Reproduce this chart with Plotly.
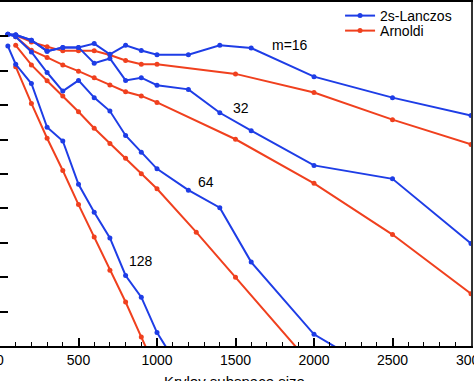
import plotly.graph_objects as go

# Krylov subspace sizes
x_lanczos_16 = [50, 100, 200, 300, 400, 500, 600, 700, 800, 900, 1000, 1200, 1400, 1600, 2000, 2500, 3000]
x_lanczos_32 = [50, 100, 200, 300, 400, 500, 600, 700, 800, 900, 1000, 1200, 1400, 1600, 2000, 2500, 3000]
x_lanczos_64 = [50, 100, 200, 300, 400, 500, 600, 700, 800, 900, 1000, 1200, 1400, 1600, 2000, 2500]
x_lanczos_128 = [50, 100, 200, 300, 400, 500, 600, 700, 800, 900, 1000, 1200]

x_arnoldi_16 = [100, 200, 300, 400, 500, 600, 700, 800, 900, 1000, 1500, 2000, 2500, 3000]
x_arnoldi_32 = [100, 200, 300, 400, 500, 600, 700, 800, 900, 1000, 1500, 2000, 2500, 3000]
x_arnoldi_64 = [100, 200, 300, 400, 500, 600, 700, 800, 900, 1000, 1250, 1500, 2000]
x_arnoldi_128 = [100, 200, 300, 400, 500, 600, 700, 800, 900, 1000]

# log10 of the residual
y_lanczos_16 = [-0.94, -0.95, -1.11, -1.43, -1.32, -1.32, -1.21, -1.52, -1.26, -1.41, -1.53, -1.53, -1.26, -1.34, -2.17, -2.78, -3.30]
y_lanczos_32 = [-0.94, -0.96, -1.11, -1.43, -1.32, -1.32, -1.78, -1.64, -2.28, -2.20, -2.42, -2.54, -3.22, -3.74, -4.75, -5.14, -7.02]
y_lanczos_64 = [-0.94, -1.01, -1.45, -2.05, -2.59, -2.28, -2.78, -3.17, -3.88, -4.37, -4.85, -5.47, -5.98, -7.56, -9.66, -11.01]
y_lanczos_128 = [-1.28, -1.81, -2.37, -3.64, -4.04, -5.30, -6.11, -6.86, -7.95, -8.58, -9.61, -11.07]

y_arnoldi_16 = [-0.97, -1.16, -1.30, -1.42, -1.42, -1.42, -1.54, -1.70, -1.81, -1.81, -2.09, -2.63, -3.42, -4.14]
y_arnoldi_32 = [-1.01, -1.40, -1.61, -1.83, -2.01, -2.20, -2.41, -2.61, -2.73, -2.92, -3.99, -5.27, -6.76, -8.48]
y_arnoldi_64 = [-1.26, -1.83, -2.29, -2.73, -3.19, -3.67, -4.11, -4.54, -4.99, -5.43, -6.69, -8.00, -10.63]
y_arnoldi_128 = [-1.88, -2.95, -3.96, -4.90, -5.89, -6.83, -7.80, -8.72, -9.74, -10.75]

x_tick_values = [0, 500, 1000, 1500, 2000, 2500, 3000]
x_tick_labels = ["0", "500", "1000", "1500", "2000", "2500", "3000"]
x_title = "Krylov subspace size"

curve_labels = ["m=16", "32", "64", "128"]
label_x = [1849, 1535, 1309, 898]
label_y = [-1.25, -3.09, -5.22, -7.52]

BLUE = "#1e3de6"
RED = "#f0401e"
FONT = "Liberation Sans, Arial, Helvetica, sans-serif"

fig = go.Figure()

lanczos = [(x_lanczos_16, y_lanczos_16), (x_lanczos_32, y_lanczos_32),
           (x_lanczos_64, y_lanczos_64), (x_lanczos_128, y_lanczos_128)]
arnoldi = [(x_arnoldi_16, y_arnoldi_16), (x_arnoldi_32, y_arnoldi_32),
           (x_arnoldi_64, y_arnoldi_64), (x_arnoldi_128, y_arnoldi_128)]

for i, (xs, ys) in enumerate(arnoldi):
    fig.add_trace(go.Scatter(x=xs, y=ys, mode="lines+markers",
                             line=dict(color=RED, width=2),
                             marker=dict(color=RED, size=5),
                             name="Arnoldi", showlegend=(i == 0), legend="legend2"))
for i, (xs, ys) in enumerate(lanczos):
    fig.add_trace(go.Scatter(x=xs, y=ys, mode="lines+markers",
                             line=dict(color=BLUE, width=2),
                             marker=dict(color=BLUE, size=5),
                             name="2s-Lanczos", showlegend=(i == 0), legend="legend"))

for t, xx, yy in zip(curve_labels, label_x, label_y):
    fig.add_annotation(x=xx, y=yy, text=t, showarrow=False,
                       font=dict(size=14, color="black", family=FONT))

# tick labels at the plot edges (partly cut off, as in the original)
for v, t in zip(x_tick_values, x_tick_labels):
    if v in (x_tick_values[0], x_tick_values[-1]):
        fig.add_annotation(x=v, xref="x", y=0, yref="paper", yanchor="middle",
                           yshift=-14, text=t, showarrow=False,
                           font=dict(size=14, color="black", family=FONT))

# axis title, partly below the bottom edge as in the original
fig.add_annotation(x=0.497, xref="paper", y=0, yref="paper", yanchor="top",
                   yshift=-25, text=x_title, showarrow=False,
                   font=dict(size=15, color="black", family=FONT))

legend_style = dict(xanchor="left", yanchor="middle",
                    bgcolor="rgba(255,255,255,0)", borderwidth=0,
                    font=dict(size=14, family=FONT), itemwidth=30)

fig.update_layout(
    width=474, height=381,
    margin=dict(l=0, r=3, t=1, b=35),
    paper_bgcolor="white", plot_bgcolor="white",
    font=dict(family=FONT, size=14, color="black"),
    showlegend=True,
    legend=dict(x=0.722, y=0.959, **legend_style),
    legend2=dict(x=0.722, y=0.913, **legend_style),
)
fig.update_xaxes(range=[0, 3000], tickvals=x_tick_values, ticktext=x_tick_labels,
                 ticks="inside", ticklen=8, tickwidth=1.5, tickcolor="black",
                 minor=dict(dtick=100, ticks="inside", ticklen=4, tickwidth=1, tickcolor="black"),
                 showline=True, linecolor="black", linewidth=2, mirror=True,
                 showgrid=False, zeroline=False, automargin=False,
                 tickfont=dict(size=14))
fig.update_yaxes(range=[-10, 0], dtick=1, tick0=0,
                 ticks="inside", ticklen=8, tickwidth=1.5, tickcolor="black",
                 showticklabels=False,
                 showline=True, linecolor="#333333", linewidth=2, mirror=True,
                 showgrid=False, zeroline=False, automargin=False)

fig.write_html("out.html", config={"displayModeBar": False},
               post_script="document.body.style.margin='0px';document.body.style.overflow='hidden';")
